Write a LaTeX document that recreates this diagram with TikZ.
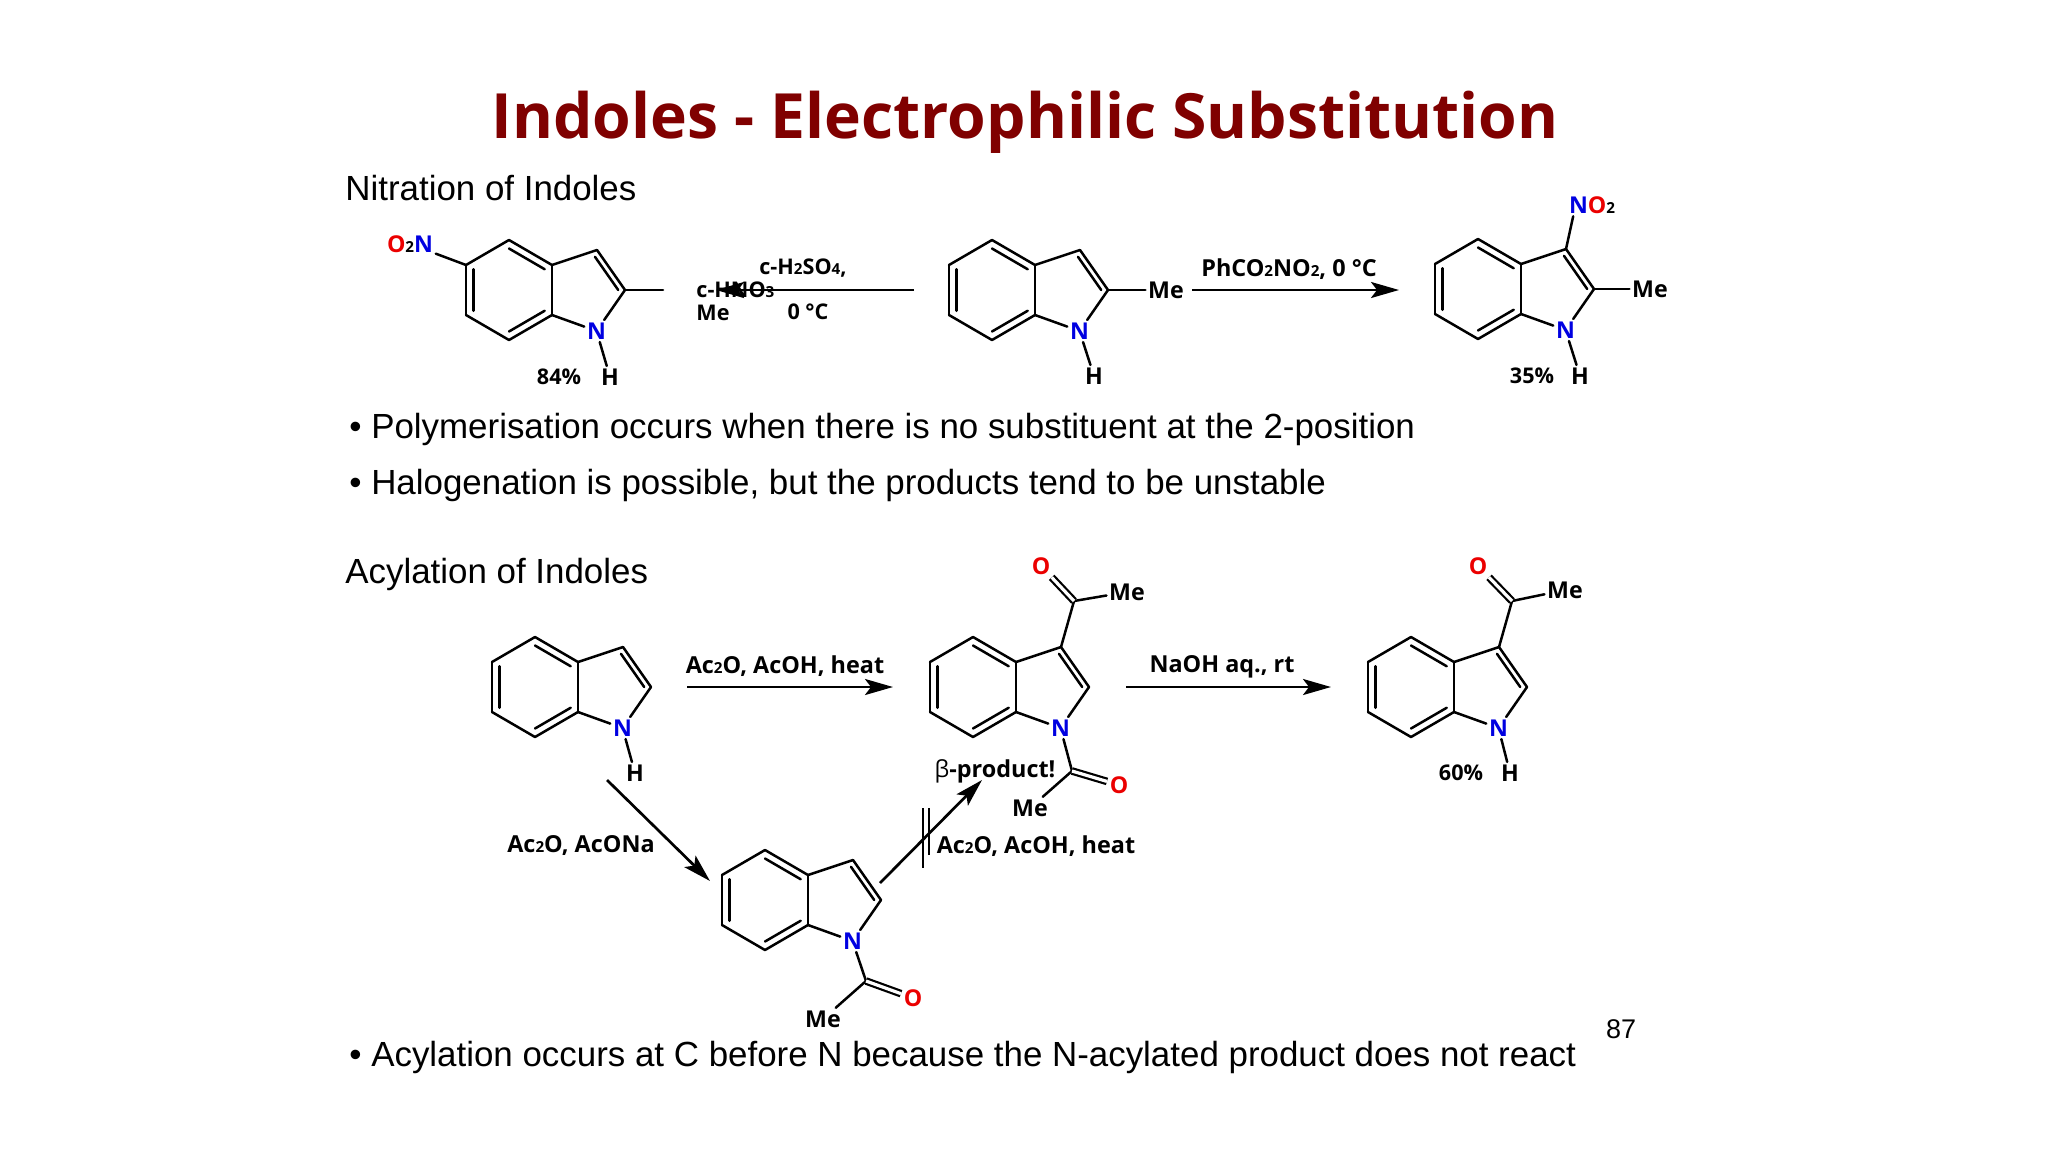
\documentclass[tikz,border=0pt]{standalone}
\usepackage{fontspec}
\setmainfont{Liberation Sans}
\newfontfamily\chemfont{Open Sans}
\usetikzlibrary{arrows.meta,calc}
\definecolor{titlered}{RGB}{128,0,0}
\definecolor{atomblue}{RGB}{0,0,225}
\definecolor{atomred}{RGB}{235,0,0}
\newcommand{\subnum}[1]{{\fontsize{7.6}{8}\selectfont #1}}
\newcommand{\nitrogen}{\textcolor{atomblue}{N}}
\newcommand{\oxygen}{\textcolor{atomred}{O}}
%% one indole, #1 is the prefix of its atoms, (#2,#3) its top ring atom
\newcommand{\indole}[3]{%
\begin{scope}[shift={(#2,#3)}]
\foreach \atomname/\x/\y in {t/0/0, tl/-43/25, bl/-43/75, b/0/100, f/43/75, e/43/25,
  c/88/10, d/116/50, hc/0/50, pc/76/50} {
  \coordinate (#1\atomname) at (\x,\y);
}
\node (#1n) at (87.5,91) [atomdecorate] {\nitrogen};
\path
\foreach \startnode/\endnode in {t/tl, tl/bl, bl/b, b/f, f/e, e/t, e/c, c/d, d/n, n/f}
{
  (#1\startnode) edge[linedecorate] (#1\endnode)
};
%% inner lines of the double bonds
\foreach \startnode/\endnode/\mid in {tl/bl/hc, t/e/hc, b/f/hc, c/d/pc} {
  \draw[linedecorate] ($(#1\startnode)!.17!(#1\mid)$) -- ($(#1\endnode)!.17!(#1\mid)$);
}
\end{scope}}
\begin{document}
\begin{tikzpicture}
[x=0.5pt,y=-0.5pt,
  atomdecorate/.style={font=\chemfont\bfseries\fontsize{11.6}{13}\selectfont,inner sep=1.2pt},%
  reagentdecorate/.style={font=\chemfont\bfseries\fontsize{11.7}{13}\selectfont,inner sep=0pt},%
  smalldecorate/.style={font=\chemfont\bfseries\fontsize{10.8}{13}\selectfont,inner sep=0pt},%
  linedecorate/.style={-,line width=1.25pt,line cap=round,line join=round},%
  carbonyl/.style={-,line width=1.1pt,double,double distance=1.6pt},%
  reaction/.style={-{Stealth[length=14pt,width=8pt,inset=3pt]},line width=1.35pt},%
  textdecorate/.style={anchor=west,font=\fontsize{17.45}{20}\selectfont,inner sep=0pt}]
\useasboundingbox (0,0) rectangle (2048,1152);
%% title and text
\node (title) at (1025,122) [font=\chemfont\bfseries\fontsize{31.2}{34}\selectfont,text=titlered] {Indoles - Electrophilic Substitution};
\node (nitration) at (345,188) [textdecorate] {Nitration of Indoles};
\node (polymer) at (349,429) [textdecorate] {• Polymerisation occurs when there is no substituent at the 2-position};
\node (halogen) at (349,485) [textdecorate] {• Halogenation is possible, but the products tend to be unstable};
\node (acylation) at (345,574) [textdecorate] {Acylation of Indoles};
\node (reason) at (349,1057) [textdecorate] {• Acylation occurs at C before N because the N-acylated product does not react};
\node (page) at (1621,1029) [font=\fontsize{13.5}{16}\selectfont] {87};
%% molecules
\indole{a}{509}{240}
\indole{b}{992}{240}
\indole{p}{1478}{239}
\indole{i}{535}{637}
\indole{e}{973}{637}
\indole{f}{1411}{637}
\indole{g}{765}{850}
%% labels on the molecules
\foreach \nodename/\x/\y/\label in {ah/610/377/H, bh/1094/376/H, bme/1166/290/Me,
  ph/1580/376/H, pme/1650/289/Me, ih/635/773/H,
  eme/1127/592/Me, eo/1041/566/\oxygen, eno/1119/785/\oxygen, enme/1030/808/Me,
  fme/1565/590/Me, fo/1478/566/\oxygen, fh/1510/773/H,
  go/913/998/\oxygen, gme/823/1019/Me} {
  \node (\nodename) at (\x,\y) [atomdecorate] {\label};
}
\foreach \nodename/\x/\y/\label in {ay/559/377/84\%, py/1532/376/35\%, fy/1461/773/60\%} {
  \node (\nodename) at (\x,\y) [smalldecorate] {\label};
}
\node (ano) at (410,244) [atomdecorate] {\oxygen\subnum{2}\nitrogen};
\node (pno) at (1592,205) [atomdecorate] {\nitrogen\oxygen\subnum{2}};
\coordinate (amet) at (663,290);
\coordinate (eacyl) at (1074,601);
\coordinate (enacyl) at (1072,771);
\coordinate (facyl) at (1512,601);
\coordinate (gacyl) at (866,981);
%% bonds of the substituents
\path
\foreach \startnode/\endnode in {atl/ano, ad/amet, an/ah, bd/bme, bn/bh, pc/pno.211, pd/pme, pn/ph, in/ih,
  ec/eacyl, eacyl/eme, en/enacyl, enacyl/enme, fc/facyl, facyl/fme, fn/fh, gn/gacyl, gacyl/gme}
{
  (\startnode) edge[linedecorate] (\endnode)
};
\path
\foreach \startnode/\endnode in {eacyl/eo, enacyl/eno, facyl/fo, gacyl/go}
{
  (\startnode) edge[carbonyl] (\endnode)
};
%% reagents
\node (cond1a) at (803,268) [smalldecorate] {c-H\subnum{2}SO\subnum{4},};
\node (cond1b) at (696,290) [smalldecorate,anchor=west] {c-HNO\subnum{3}};
\node (cond1c) at (696,313) [smalldecorate,anchor=west] {Me};
\node (cond1d) at (808,312) [smalldecorate] {0 °C};
\node (cond2) at (1289,269) [reagentdecorate] {PhCO\subnum{2}NO\subnum{2}, 0 °C};
\node (cond3) at (785,666) [reagentdecorate] {Ac\subnum{2}O, AcOH, heat};
\node (cond4) at (1222,667) [reagentdecorate] {NaOH aq., rt};
\node (cond5) at (581,846) [reagentdecorate] {Ac\subnum{2}O, AcONa};
\node (cond6) at (1036,846) [reagentdecorate] {Ac\subnum{2}O, AcOH, heat};
\node (beta) at (995,771) [reagentdecorate] {{\mdseries β}-product!};
%% reaction arrows
\foreach \nodename/\x/\y in {r1s/914/290, r1e/716/290, r2s/1192/290, r2e/1399/290, r3s/687/687, r3e/893/687,
  r4s/1126/687, r4e/1331/687, r5s/607/780, r5e/710/881, r6s/880/883, r6e/982/780,
  c1s/923/808, c1e/923/868, c2s/929/808, c2e/929/855} {
  \coordinate (\nodename) at (\x,\y);
}
\foreach \startnode/\endnode in {r1s/r1e, r2s/r2e, r3s/r3e, r4s/r4e, r5s/r5e, r6s/r6e} {
  \draw[reaction] (\startnode) -- (\endnode);
}
\draw[line width=0.9pt] (c1s) -- (c1e);
\draw[line width=0.9pt] (c2s) -- (c2e);
\end{tikzpicture}
\end{document}
